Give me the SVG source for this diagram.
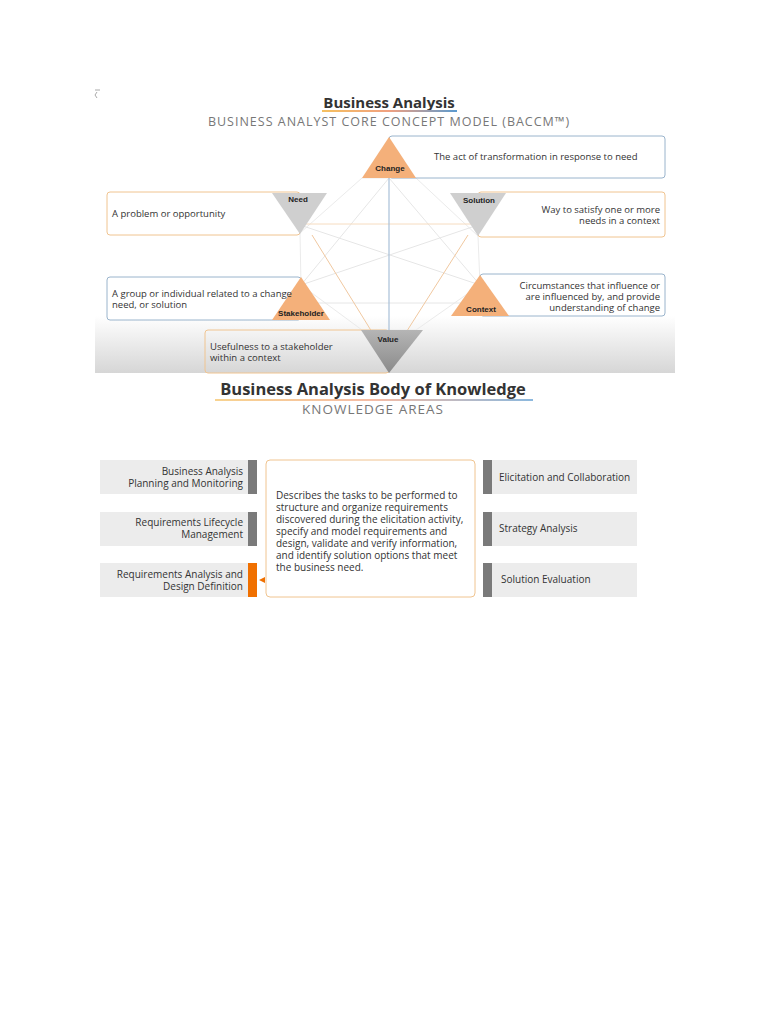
<svg xmlns="http://www.w3.org/2000/svg" width="768" height="1024" viewBox="0 0 768 1024">
<defs>
<linearGradient id="bg" x1="0" y1="0" x2="0" y2="1">
<stop offset="0" stop-color="#fff"/><stop offset="0.8" stop-color="#fff"/><stop offset="1" stop-color="#d6d6d6"/>
</linearGradient>
<linearGradient id="ul" x1="0" y1="0" x2="1" y2="0">
<stop offset="0" stop-color="#f5c060"/><stop offset="0.5" stop-color="#f0a080"/><stop offset="1" stop-color="#5a9ad0"/>
</linearGradient>
<linearGradient id="vt" x1="0" y1="0" x2="0" y2="1">
<stop offset="0" stop-color="#b5b5b5"/><stop offset="1" stop-color="#8a8a8a"/>
</linearGradient>
</defs>
<style>
text{font-family:"Open Sans","Liberation Sans",sans-serif;fill:#333}
.d{font-size:9.5px}
.lab{font-size:8px;font-weight:bold;fill:#222;text-anchor:middle;font-family:"Liberation Sans",sans-serif}
.ob{fill:#fff;stroke:#f0c490;stroke-width:1}
.bb{fill:#fff;stroke:#9ab4cc;stroke-width:1}
.up{fill:#f4b07a}
.dn{fill:#cfcfcf}
.g{fill:#ececec}
.bar{fill:#7a7a7a}
.k{font-size:10px}
</style>
<rect x="95" y="87" width="580" height="286" fill="url(#bg)"/>
<path d="M100 90 L95 90 M97 92 L95 95 L97 98" stroke="#aaa" fill="none"/>
<text x="389" y="108" text-anchor="middle" font-size="15" font-weight="bold">Business Analysis</text>
<rect x="322" y="110" width="135" height="2" fill="url(#ul)"/>
<text x="389" y="126" text-anchor="middle" font-size="12.5" style="fill:#777;letter-spacing:1px">BUSINESS ANALYST CORE CONCEPT MODEL (BACCM™)</text>
<g id="connectors" fill="none">
<polygon points="362,178 416,178 478,236 480,285 416,330 362,330 301,285 300,233" stroke="#ebebeb"/>
<line x1="389" y1="178" x2="301" y2="285" stroke="#e6e6e6"/>
<line x1="389" y1="178" x2="480" y2="285" stroke="#e6e6e6"/>
<line x1="300" y1="225" x2="480" y2="285" stroke="#e6e6e6"/>
<line x1="478" y1="225" x2="301" y2="285" stroke="#e6e6e6"/>
<line x1="301" y1="303" x2="480" y2="303" stroke="#e6e6e6"/>
<line x1="300" y1="224" x2="478" y2="224" stroke="#f6dcc0"/>
<line x1="312" y1="235" x2="380" y2="345" stroke="#f0c8a0"/>
<line x1="468" y1="235" x2="398" y2="345" stroke="#f0c8a0"/>
<line x1="389" y1="178" x2="389" y2="340" stroke="#a8c0d8" stroke-width="1.2"/>
</g>
<g id="change"><rect class="bb" x="389" y="136" width="276" height="42" rx="3"/><polygon class="up" points="389,137 416,178 362,178"/><text class="lab" x="390" y="171">Change</text><text class="d" x="434" y="160">The act of transformation in response to need</text></g>
<g id="need"><rect class="ob" x="107" y="192" width="193" height="43" rx="3"/><polygon class="dn" points="272,193 327,193 300,234"/><text class="lab" x="298" y="202">Need</text><text class="d" x="112" y="217">A problem or opportunity</text></g>
<g id="solution"><rect class="ob" x="478" y="192" width="187" height="45" rx="3"/><polygon class="dn" points="450,193 506,193 478,236"/><text class="lab" x="479" y="203">Solution</text><text class="d" x="660" y="213" text-anchor="end">Way to satisfy one or more</text><text class="d" x="660" y="224" text-anchor="end">needs in a context</text></g>
<g id="stakeholder"><rect class="bb" x="107" y="277" width="194" height="43" rx="3"/><polygon class="up" points="301,277 330,320 272,320"/><text class="lab" x="301" y="316">Stakeholder</text><text class="d" x="112" y="297">A group or individual related to a change</text><text class="d" x="112" y="308">need, or solution</text></g>
<g id="context"><rect class="bb" x="480" y="274" width="185" height="42" rx="3"/><polygon class="up" points="480,275 509,316 451,316"/><text class="lab" x="481" y="312">Context</text><text class="d" x="660" y="289" text-anchor="end">Circumstances that influence or</text><text class="d" x="660" y="300" text-anchor="end">are influenced by, and provide</text><text class="d" x="660" y="311" text-anchor="end">understanding of change</text></g>
<g id="value"><rect class="ob" x="205" y="330" width="184" height="43" rx="3" style="fill:none"/><polygon fill="url(#vt)" points="361,330 423,330 389,373"/><text class="lab" x="388" y="342">Value</text><text class="d" x="210" y="350">Usefulness to a stakeholder</text><text class="d" x="210" y="361">within a context</text></g>
<text x="373" y="395" text-anchor="middle" font-size="16.5" font-weight="bold">Business Analysis Body of Knowledge</text>
<rect x="215" y="399" width="318" height="2" fill="url(#ul)" opacity="0.7"/>
<text x="373" y="414" text-anchor="middle" font-size="13.5" style="fill:#777;letter-spacing:1px">KNOWLEDGE AREAS</text>
<g id="bapm"><rect class="g" x="100" y="460" width="157" height="34"/><rect class="bar" x="248" y="460" width="9" height="34"/><text class="k" x="243" y="475" text-anchor="end">Business Analysis</text><text class="k" x="243" y="487" text-anchor="end">Planning and Monitoring</text></g>
<g id="rlm"><rect class="g" x="100" y="512" width="157" height="34"/><rect class="bar" x="248" y="512" width="9" height="34"/><text class="k" x="243" y="526" text-anchor="end">Requirements Lifecycle</text><text class="k" x="243" y="538" text-anchor="end">Management</text></g>
<g id="radd"><rect class="g" x="100" y="563" width="157" height="34"/><rect x="248" y="563" width="9" height="34" fill="#f07000"/><text class="k" x="243" y="578" text-anchor="end">Requirements Analysis and</text><text class="k" x="243" y="590" text-anchor="end">Design Definition</text><polygon points="259,580 265,577 265,583" fill="#f07000"/></g>
<g id="desc"><rect x="266" y="460" width="209" height="137" rx="4" fill="#fff" stroke="#f0c490"/>
<text class="k" x="276" y="499">Describes the tasks to be performed to</text>
<text class="k" x="276" y="511">structure and organize requirements</text>
<text class="k" x="276" y="523">discovered during the elicitation activity,</text>
<text class="k" x="276" y="535">specify and model requirements and</text>
<text class="k" x="276" y="547">design, validate and verify information,</text>
<text class="k" x="276" y="559">and identify solution options that meet</text>
<text class="k" x="276" y="571">the business need.</text></g>
<g id="elic"><rect class="g" x="483" y="460" width="154" height="34"/><rect class="bar" x="483" y="460" width="9" height="34"/><text class="k" x="499" y="481">Elicitation and Collaboration</text></g>
<g id="strat"><rect class="g" x="483" y="512" width="154" height="34"/><rect class="bar" x="483" y="512" width="9" height="34"/><text class="k" x="499" y="532">Strategy Analysis</text></g>
<g id="soleval"><rect class="g" x="483" y="563" width="154" height="34"/><rect class="bar" x="483" y="563" width="9" height="34"/><text class="k" x="501" y="583">Solution Evaluation</text></g>
</svg>
